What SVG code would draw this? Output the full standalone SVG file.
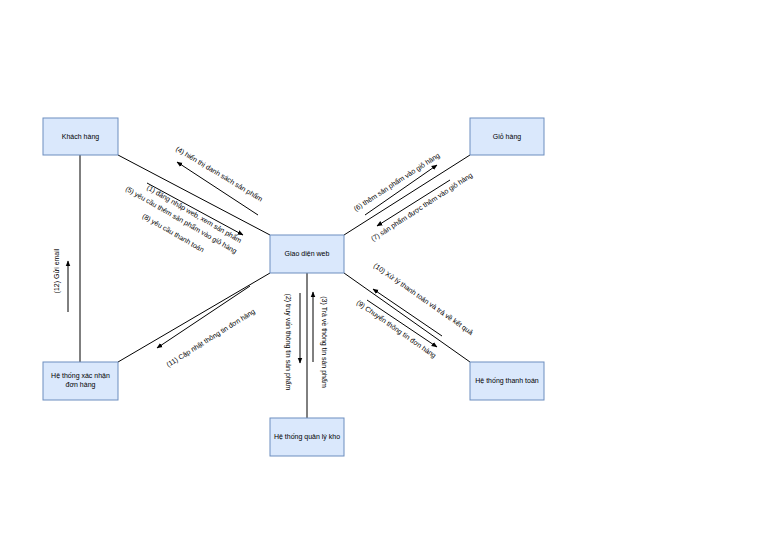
<svg xmlns="http://www.w3.org/2000/svg" width="768" height="543" viewBox="0 0 768 543">
<style>
.n{fill:#dae8fc;stroke:#6c8ebf;stroke-width:1}
.t{font-family:"Liberation Sans",Arial,sans-serif;font-size:7px;fill:#000}
.l{stroke:#000;stroke-width:1;fill:none}
</style>
<defs><marker id="a" viewBox="0 0 10 10" refX="9" refY="5" markerWidth="6" markerHeight="6" orient="auto"><path d="M0,1 L10,5 L0,9 Z" fill="#000"/></marker></defs>
<rect width="768" height="543" fill="#fff"/>
<g id="connectors">
<path class="l" d="M118,155 L270,235"/>
<path class="l" d="M470,155 L344,235"/>
<path class="l" d="M270,273 L118,362"/>
<path class="l" d="M344,273 L470,362"/>
<path class="l" d="M307,273 L307,418"/>
<path class="l" d="M80,155 L80,362"/>
<path class="l" d="M258,215 L177,162" marker-end="url(#a)"/>
<path class="l" d="M147,183 L243,235" marker-end="url(#a)"/>
<path class="l" d="M365,215 L437,165" marker-end="url(#a)"/>
<path class="l" d="M450,180 L377,226" marker-end="url(#a)"/>
<path class="l" d="M250,286 L157,348" marker-end="url(#a)"/>
<path class="l" d="M442,336 L373,289" marker-end="url(#a)"/>
<path class="l" d="M367,300 L437,347" marker-end="url(#a)"/>
<path class="l" d="M300,293 L300,363" marker-end="url(#a)"/>
<path class="l" d="M313,362 L313,292" marker-end="url(#a)"/>
<path class="l" d="M68,312 L68,261" marker-end="url(#a)"/>
<text class="t" transform="translate(218,176) rotate(31)" text-anchor="middle">(4) hiển thị danh sách sản phẩm</text>
<text class="t" transform="translate(193,216) rotate(30)" text-anchor="middle">(1) đăng nhập web, xem sản phẩm</text>
<text class="t" transform="translate(180,222) rotate(30)" text-anchor="middle">(5) yêu cầu thêm sản phẩm vào giỏ hàng</text>
<text class="t" transform="translate(172,235) rotate(30)" text-anchor="middle">(8) yêu cầu thanh toán</text>
<text class="t" transform="translate(398,184) rotate(-33)" text-anchor="middle">(6) thêm sản phẩm vào giỏ hàng</text>
<text class="t" transform="translate(423,209) rotate(-33)" text-anchor="middle">(7) sản phẩm được thêm vào giỏ hàng</text>
<text class="t" transform="translate(212,340) rotate(-32)" text-anchor="middle">(11) Cập nhật thông tin đơn hàng</text>
<text class="t" transform="translate(422,301) rotate(35)" text-anchor="middle">(10) Xử lý thanh toán và trả về kết quả</text>
<text class="t" transform="translate(395,331) rotate(35)" text-anchor="middle">(9) Chuyển thông tin đơn hàng</text>
<text class="t" transform="translate(286,342) rotate(90)" text-anchor="middle">(2) truy vấn thông tin sản phẩm</text>
<text class="t" transform="translate(322,342) rotate(90)" text-anchor="middle">(3) Trả về thông tin sản phẩm</text>
<text class="t" transform="translate(59,271) rotate(-90)" text-anchor="middle">(12) Gửi email</text>
</g>
<g id="khach-hang"><rect class="n" x="43" y="118" width="75" height="37"/><text class="t" x="80.5" y="139" text-anchor="middle">Khách hàng</text></g>
<g id="gio-hang"><rect class="n" x="470" y="118" width="74" height="37"/><text class="t" x="507" y="139" text-anchor="middle">Giỏ hàng</text></g>
<g id="giao-dien"><rect class="n" x="270" y="235" width="74" height="38"/><text class="t" x="307" y="256" text-anchor="middle">Giao diện web</text></g>
<g id="xac-nhan"><rect class="n" x="43" y="362" width="75" height="38"/><text class="t" x="80.5" y="378" text-anchor="middle">Hệ thống xác nhận</text><text class="t" x="80.5" y="387" text-anchor="middle">đơn hàng</text></g>
<g id="thanh-toan"><rect class="n" x="470" y="362" width="74" height="38"/><text class="t" x="507" y="383" text-anchor="middle">Hệ thống thanh toán</text></g>
<g id="kho"><rect class="n" x="270" y="418" width="74" height="38"/><text class="t" x="307" y="439" text-anchor="middle">Hệ thống quản lý kho</text></g>
</svg>
